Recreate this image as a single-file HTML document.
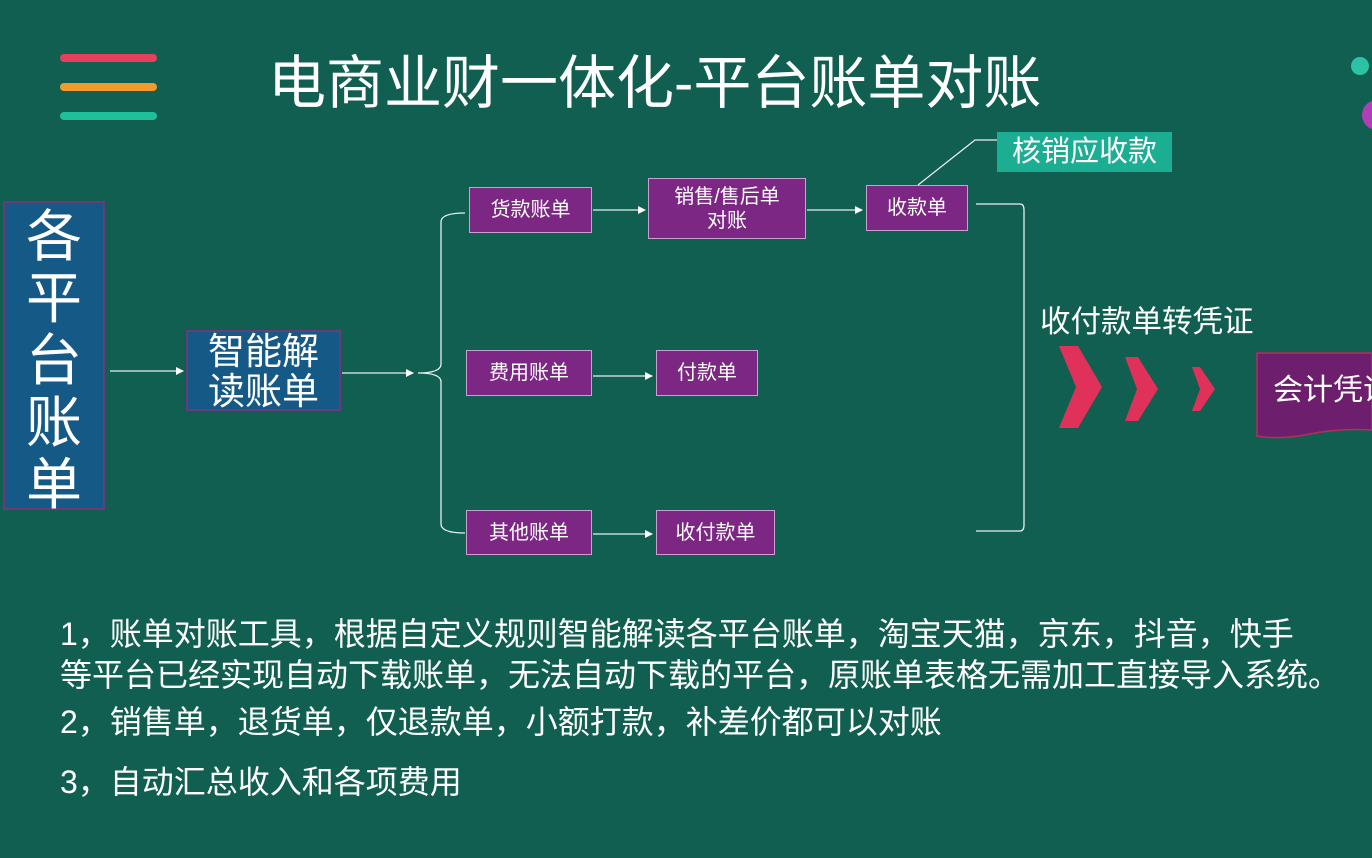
<!DOCTYPE html>
<html><head><meta charset="utf-8"><style>
body{margin:0;width:1372px;height:858px;overflow:hidden;background:#115f51;font-family:"Liberation Sans","Noto Sans CJK SC",sans-serif;color:#fff;position:relative}
.a{position:absolute}
.bx{position:absolute;background:#7b2783;border:1.5px solid #c9a0cf;box-sizing:border-box;display:flex;align-items:center;justify-content:center;text-align:center;font-size:20px;line-height:24px}
.t{position:absolute;left:60px;font-size:32px;white-space:nowrap;line-height:40px}
</style></head><body>
<div class="a" style="left:60px;top:54px;width:97px;height:8px;border-radius:4px;background:#e5405c"></div>
<div class="a" style="left:60px;top:83px;width:97px;height:8px;border-radius:4px;background:#f39a2b"></div>
<div class="a" style="left:60px;top:112px;width:97px;height:8px;border-radius:4px;background:#1fbf9a"></div>
<div class="a" style="left:268px;top:49px;font-size:58px;line-height:70px;white-space:nowrap">电商业财一体化-平台账单对账</div>
<div class="a" style="left:1351px;top:57px;width:18px;height:18px;border-radius:50%;background:#2cc3a4"></div>
<div class="a" style="left:1362px;top:100px;width:30px;height:30px;border-radius:50%;background:#b03fb5"></div>
<div class="a" style="left:997px;top:132px;width:175px;height:40px;background:#1cae92;font-size:29px;line-height:40px;text-align:center">核销应收款</div>
<div class="a" style="left:3px;top:201px;width:102px;height:309px;background:#155a86;border:2px solid #6a3a7a;box-sizing:border-box;font-size:56px;line-height:62px;text-align:center;padding-top:3px">各<br>平<br>台<br>账<br>单</div>
<div class="a" style="left:186px;top:330px;width:155px;height:81px;background:#155a86;border:2px solid #6a3a7a;box-sizing:border-box;font-size:37px;line-height:40px;text-align:center">智能解<br>读账单</div>
<div class="bx" style="left:469px;top:187px;width:123px;height:46px">货款账单</div>
<div class="bx" style="left:648px;top:178px;width:158px;height:61px">销售/售后单<br>对账</div>
<div class="bx" style="left:866px;top:185px;width:102px;height:46px">收款单</div>
<div class="bx" style="left:466px;top:350px;width:126px;height:46px">费用账单</div>
<div class="bx" style="left:656px;top:350px;width:102px;height:46px">付款单</div>
<div class="bx" style="left:466px;top:510px;width:126px;height:45px">其他账单</div>
<div class="bx" style="left:656px;top:510px;width:119px;height:45px">收付款单</div>
<svg class="a" style="left:0;top:0" width="1372" height="858">
<defs><marker id="m" markerWidth="8" markerHeight="8" refX="7" refY="4" orient="auto" markerUnits="userSpaceOnUse"><path d="M0,0L8,4L0,8z" fill="#fff"/></marker></defs>
<g stroke="#e8eeee" stroke-width="1.3" fill="none">
<line x1="110" y1="371" x2="183" y2="371" marker-end="url(#m)"/>
<line x1="342" y1="373" x2="413" y2="373" marker-end="url(#m)"/>
<path d="M465,213 Q441,213 441,222 L441,364 Q441,373 418,373 Q441,373 441,382 L441,524 Q441,533 465,533"/>
<line x1="593" y1="210" x2="645" y2="210" marker-end="url(#m)"/>
<line x1="807" y1="210" x2="862" y2="210" marker-end="url(#m)"/>
<line x1="593" y1="376" x2="652" y2="376" marker-end="url(#m)"/>
<line x1="593" y1="534" x2="652" y2="534" marker-end="url(#m)"/>
<path d="M976,204 L1020,204 Q1024,204 1024,210 L1024,525 Q1024,531 1020,531 L976,531"/>
<polyline points="918,185 975,140 997,140"/>
</g>
<g fill="#e0315a">
<polygon points="1059,346 1078,346 1102,387 1078,428 1059,428 1076,387"/>
<polygon points="1125,357 1138,357 1158,389 1138,421 1125,421 1137,389"/>
<polygon points="1192,367 1200,367 1215,389 1200,411 1192,411 1200,389"/>
</g>
<path d="M1257,353 L1372,353 L1372,430 Q1340,428 1310,434 Q1280,440 1257,436 Z" fill="#6d1f6d" stroke="#b0305a" stroke-width="1.5"/>
<text x="1273" y="400" font-size="30" fill="#fff" font-family="Liberation Sans, Noto Sans CJK SC, sans-serif">会计凭证</text>
</svg>
<div class="a" style="left:1040px;top:302px;font-size:30.5px;line-height:40px;white-space:nowrap">收付款单转凭证</div>
<div class="t" style="top:614px">1，账单对账工具，根据自定义规则智能解读各平台账单，淘宝天猫，京东，抖音，快手</div>
<div class="t" style="top:655px">等平台已经实现自动下载账单，无法自动下载的平台，原账单表格无需加工直接导入系统。</div>
<div class="t" style="top:702px">2，销售单，退货单，仅退款单，小额打款，补差价都可以对账</div>
<div class="t" style="top:762px">3，自动汇总收入和各项费用</div>
</body></html>
